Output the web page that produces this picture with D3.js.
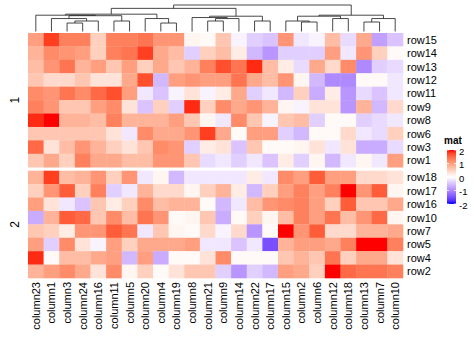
<!DOCTYPE html>
<html>
<head>
<meta charset="utf-8">
<script src="https://cdn.jsdelivr.net/npm/d3@7"></script>
<style>
  body { margin: 0; background: #ffffff; }
  text { font-family: "Liberation Sans", Arial, Helvetica, sans-serif; fill: #000; }
</style>
</head>
<body>
<div id="chart"></div>
<script>
// column order (as clustered) and row labels per slice
const colLabels = ["column23", "column1", "column3", "column24", "column16", "column11", "column5", "column20",
    "column4", "column19", "column8", "column21", "column9", "column14", "column22", "column17",
    "column15", "column2", "column6", "column12", "column18", "column13", "column7", "column10"];
const rowLabels1 = ["row15", "row14", "row13", "row12", "row11", "row9", "row8", "row6", "row3", "row1"];
const rowLabels2 = ["row18", "row17", "row16", "row10", "row7", "row5", "row4", "row2"];
const sliceLabels = ["1", "2"];

// values, one array per row, in column order above
const values1 = [
    [1.0, 1.8, 1.3, 1.3, 0.5, 1.3, 1.3, 1.4, 1.1, 1.1, 0.1, 0.05, 0.6, -0.1, -0.4, -0.5, 1.1, -0.2, -0.1, 0.7, -0.3, 0.9, -0.8, -0.5],
    [0.8, 1.2, 1.1, 1.0, 0.5, 1.3, 1.4, 1.8, 0.9, 0.7, -0.4, 0.5, 0.7, 0.2, -0.6, -0.9, -0.4, -0.4, -0.4, 1.0, -0.2, 1.1, 0.5, 0.05],
    [0.7, 1.1, 1.4, 0.8, 1.0, 0.6, 1.0, 0.5, 0.9, 0.6, 0.8, 1.3, 1.7, 1.4, 1.9, 0.7, 0.2, -0.3, 0.9, 0.4, 1.2, -1.0, -0.4, -0.3],
    [0.6, 0.4, 0.4, 0.6, 0.3, 0.3, 0.9, 1.7, -0.6, 1.0, 1.1, 1.0, 1.0, 1.4, 0.9, 0.7, 1.1, 0.1, -0.6, -1.0, -1.0, 0.05, 0.05, -0.2],
    [1.2, 1.1, 1.4, 1.2, 1.5, 1.7, 1.0, -0.2, -0.5, -0.1, 0.3, -0.1, 0.2, 0.9, -0.4, -0.2, -0.6, 0.5, -0.7, 0.2, -0.9, -0.3, -0.5, -0.2],
    [1.3, 1.1, 0.6, 0.6, 1.0, 1.2, 0.3, -0.5, 0.5, -0.4, 1.9, 0.5, 1.2, 0.9, 1.1, 0.8, 0.1, -0.1, 0.3, 0.3, -0.9, 0.8, -0.6, 0.4],
    [1.9, 2.0, 0.8, 0.8, 0.7, 1.3, 0.8, 0.8, 0.8, 1.0, 0.6, 0.1, -0.2, 1.2, 0.6, -0.1, 0.6, 0.7, -0.4, 0.05, 0.05, -0.4, -0.3, -0.2],
    [0.6, 0.6, 0.6, 0.6, 0.6, 0.3, -0.2, 1.2, 0.9, 0.9, 1.1, 1.8, 0.9, 0.05, 1.0, 1.0, -0.4, -0.6, 0.05, 0.05, 0.4, -0.2, -0.3, 0.5],
    [1.5, 0.3, 0.7, 1.1, 0.8, 0.5, 0.3, 0.6, 1.2, 1.1, -0.4, 0.2, 0.3, -0.5, 0.6, 0.05, 0.05, 0.1, 0.3, -0.2, 0.3, -0.7, -0.7, -0.3],
    [0.6, 0.9, 0.5, 1.3, 0.9, 0.9, 0.7, 0.7, 1.1, 1.1, 0.6, -0.3, -0.2, -0.4, -0.2, -0.5, 0.2, -0.4, 0.1, -0.6, -0.2, 0.1, -0.2, 1.0]
];
const values2 = [
    [0.8, 1.8, 0.7, 0.8, 1.1, 0.5, 1.1, -0.2, 0.1, -0.6, -0.2, -0.2, -0.2, -0.2, 0.2, -0.2, 1.2, 1.0, 1.6, 1.0, 1.0, 0.4, 0.4, 0.3],
    [0.5, 1.1, 1.6, 0.5, 1.3, -0.4, -0.2, 0.8, 0.4, 0.4, 0.1, 0.5, 0.8, 0.2, -0.6, 0.5, 1.0, 1.3, 1.0, 1.3, 2.0, 1.1, 1.6, 0.1],
    [1.0, 0.3, -0.2, -0.5, 0.6, 0.2, 0.5, 1.2, 0.7, 0.8, 0.8, 0.05, -0.6, -0.2, 0.7, 1.1, 1.2, 1.3, 1.0, 0.5, 1.6, 0.6, 0.6, 0.9],
    [-0.7, 0.8, 1.6, 1.5, 0.6, 1.2, 0.7, 1.4, 1.1, 0.05, 0.1, 0.6, -0.7, 0.05, 0.5, 0.1, 0.7, 1.3, 1.0, 1.4, 0.7, 1.1, 1.5, 0.1],
    [0.6, 0.5, 0.2, 1.1, 1.1, 1.6, 1.4, -0.2, 0.6, 0.1, 0.05, 0.4, -0.1, 0.4, -0.9, 0.05, 2.0, 1.1, 1.6, 0.4, 0.4, 0.8, 0.8, 0.9],
    [1.0, -0.4, 1.2, 0.3, -0.1, 1.0, 0.5, 0.9, 0.9, 0.9, 1.0, -0.2, -0.2, -0.5, -0.2, -1.5, 0.8, 1.0, 1.0, 0.9, 1.3, 2.0, 2.0, 1.3],
    [1.9, 0.05, 0.7, 0.7, 0.9, 1.0, -0.6, 1.0, -0.7, 0.05, 0.05, 0.3, 1.2, 0.05, 0.05, 0.05, 0.6, 0.8, 0.6, 1.4, 0.5, 0.9, 0.9, 0.3],
    [0.8, 1.0, 1.2, 0.9, 0.3, 1.2, 0.1, 0.5, 0.05, 0.3, 0.6, 0.6, -0.4, -0.9, -0.4, -0.6, 1.0, 0.9, 0.5, 2.0, 1.5, 1.4, 1.4, 1.3]
];

// column dendrogram: [left, right, height]
const colTree =
    [[[["column23", [["column1", [["column3", "column24", 8.3], "column16", 10.3], 12.7], ["column11", "column5", 10.3], 15.5], 16],
       ["column20", ["column4", "column19", 8.3], 12.7], 17],
      [["column8", [["column21", "column9", 10.3], "column14", 12.7], 13.7], ["column22", "column17", 10.3], 15], 22.7],
     [[["column15", ["column2", "column6", 9.3], 10.3], ["column12", "column18", 12.7], 15],
      [["column13", "column7", 9.3], "column10", 12.7], 16], 26];

const legendTitle = "mat";
const legendBreaks = [2, 1, 0, -1, -2];

const svgWidth = 474;
const svgHeight = 338;

const heatLeft = 28;
const heatRight = 403;
const slices = [
    { label: sliceLabels[0], rows: rowLabels1, values: values1, y0: 33, y1: 167.2 },
    { label: sliceLabels[1], rows: rowLabels2, values: values2, y0: 170.7, y1: 278 }
];

const svg = d3.select("#chart").append("svg")
    .attr("width", svgWidth)
    .attr("height", svgHeight)
    .style("display", "block");

const color = d3.scaleLinear()
    .domain([-2, 0, 2])
    .range(["blue", "#ffffff", "red"])
    .interpolate(d3.interpolateLab)
    .clamp(true);

const xScale = d3.scaleBand()
    .domain(colLabels)
    .range([heatLeft, heatRight]);

// heatmap slices
slices.forEach(s => {
    const yScale = d3.scaleBand()
        .domain(s.rows)
        .range([s.y0, s.y1]);

    const g = svg.append("g");
    s.rows.forEach((r, i) => {
        g.selectAll(null)
            .data(s.values[i])
            .enter().append("rect")
            .attr("x", (d, j) => xScale(colLabels[j]))
            .attr("y", yScale(r))
            .attr("width", xScale.bandwidth() + 0.3)
            .attr("height", yScale.bandwidth() + 0.3)
            .attr("fill", d => color(d));
    });

    svg.selectAll(null)
        .data(s.rows)
        .enter().append("text")
        .attr("x", heatRight + 4)
        .attr("y", d => yScale(d) + yScale.bandwidth() / 2)
        .attr("dominant-baseline", "central")
        .attr("font-size", "11px")
        .text(d => d);

    const cy = (s.y0 + s.y1) / 2;
    svg.append("text")
        .attr("transform", `translate(15, ${cy}) rotate(-90)`)
        .attr("text-anchor", "middle")
        .attr("dominant-baseline", "central")
        .attr("font-size", "12px")
        .text(s.label);
});

// column labels
svg.selectAll(null)
    .data(colLabels)
    .enter().append("text")
    .attr("transform", d => `translate(${xScale(d) + xScale.bandwidth() / 2}, 282) rotate(-90)`)
    .attr("text-anchor", "end")
    .attr("dominant-baseline", "central")
    .attr("font-size", "11px")
    .text(d => d);

// dendrogram
const hScale = d3.scaleLinear()
    .domain([0, 26])
    .range([31.5, 5]);

const dendro = svg.append("g")
    .attr("fill", "none")
    .attr("stroke", "#1a1a1a")
    .attr("stroke-width", 0.8);

const drawNode = node => {
    if (typeof node === "string") {
        return { x: xScale(node) + xScale.bandwidth() / 2, h: 0 };
    }
    const l = drawNode(node[0]);
    const r = drawNode(node[1]);
    const h = node[2];
    dendro.append("path")
        .attr("d", `M${l.x},${hScale(l.h)}V${hScale(h)}H${r.x}V${hScale(r.h)}`);
    return { x: (l.x + r.x) / 2, h: h };
};
drawNode(colTree);

// legend
const legX = 447;
const legW = 9;
const legScale = d3.scaleLinear()
    .domain([-2, 2])
    .range([204, 150]);

const grad = svg.append("defs").append("linearGradient")
    .attr("id", "legGrad")
    .attr("x1", 0).attr("y1", 0)
    .attr("x2", 0).attr("y2", 1);
d3.range(2, -2.01, -0.25).forEach((v, i, arr) => {
    grad.append("stop")
        .attr("offset", i / (arr.length - 1))
        .attr("stop-color", color(v));
});

svg.append("text")
    .attr("x", legX - 3)
    .attr("y", 143.5)
    .attr("font-size", "10px")
    .attr("font-weight", "bold")
    .text(legendTitle);

svg.append("rect")
    .attr("x", legX)
    .attr("y", legScale(2))
    .attr("width", legW)
    .attr("height", legScale(-2) - legScale(2))
    .attr("fill", "url(#legGrad)");

const tickG = svg.append("g")
    .attr("stroke", "#ffffff")
    .attr("stroke-width", 0.8);
legendBreaks.forEach(b => {
    const y = legScale(b);
    tickG.append("line").attr("x1", legX).attr("x2", legX + 2).attr("y1", y).attr("y2", y);
    tickG.append("line").attr("x1", legX + legW - 2).attr("x2", legX + legW).attr("y1", y).attr("y2", y);
});

svg.selectAll(null)
    .data(legendBreaks)
    .enter().append("text")
    .attr("x", legX + legW + 3)
    .attr("y", d => legScale(d) + 1)
    .attr("dominant-baseline", "central")
    .attr("font-size", "9.5px")
    .text(d => d < 0 ? "-" + Math.abs(d) : d);
</script>
</body>
</html>
